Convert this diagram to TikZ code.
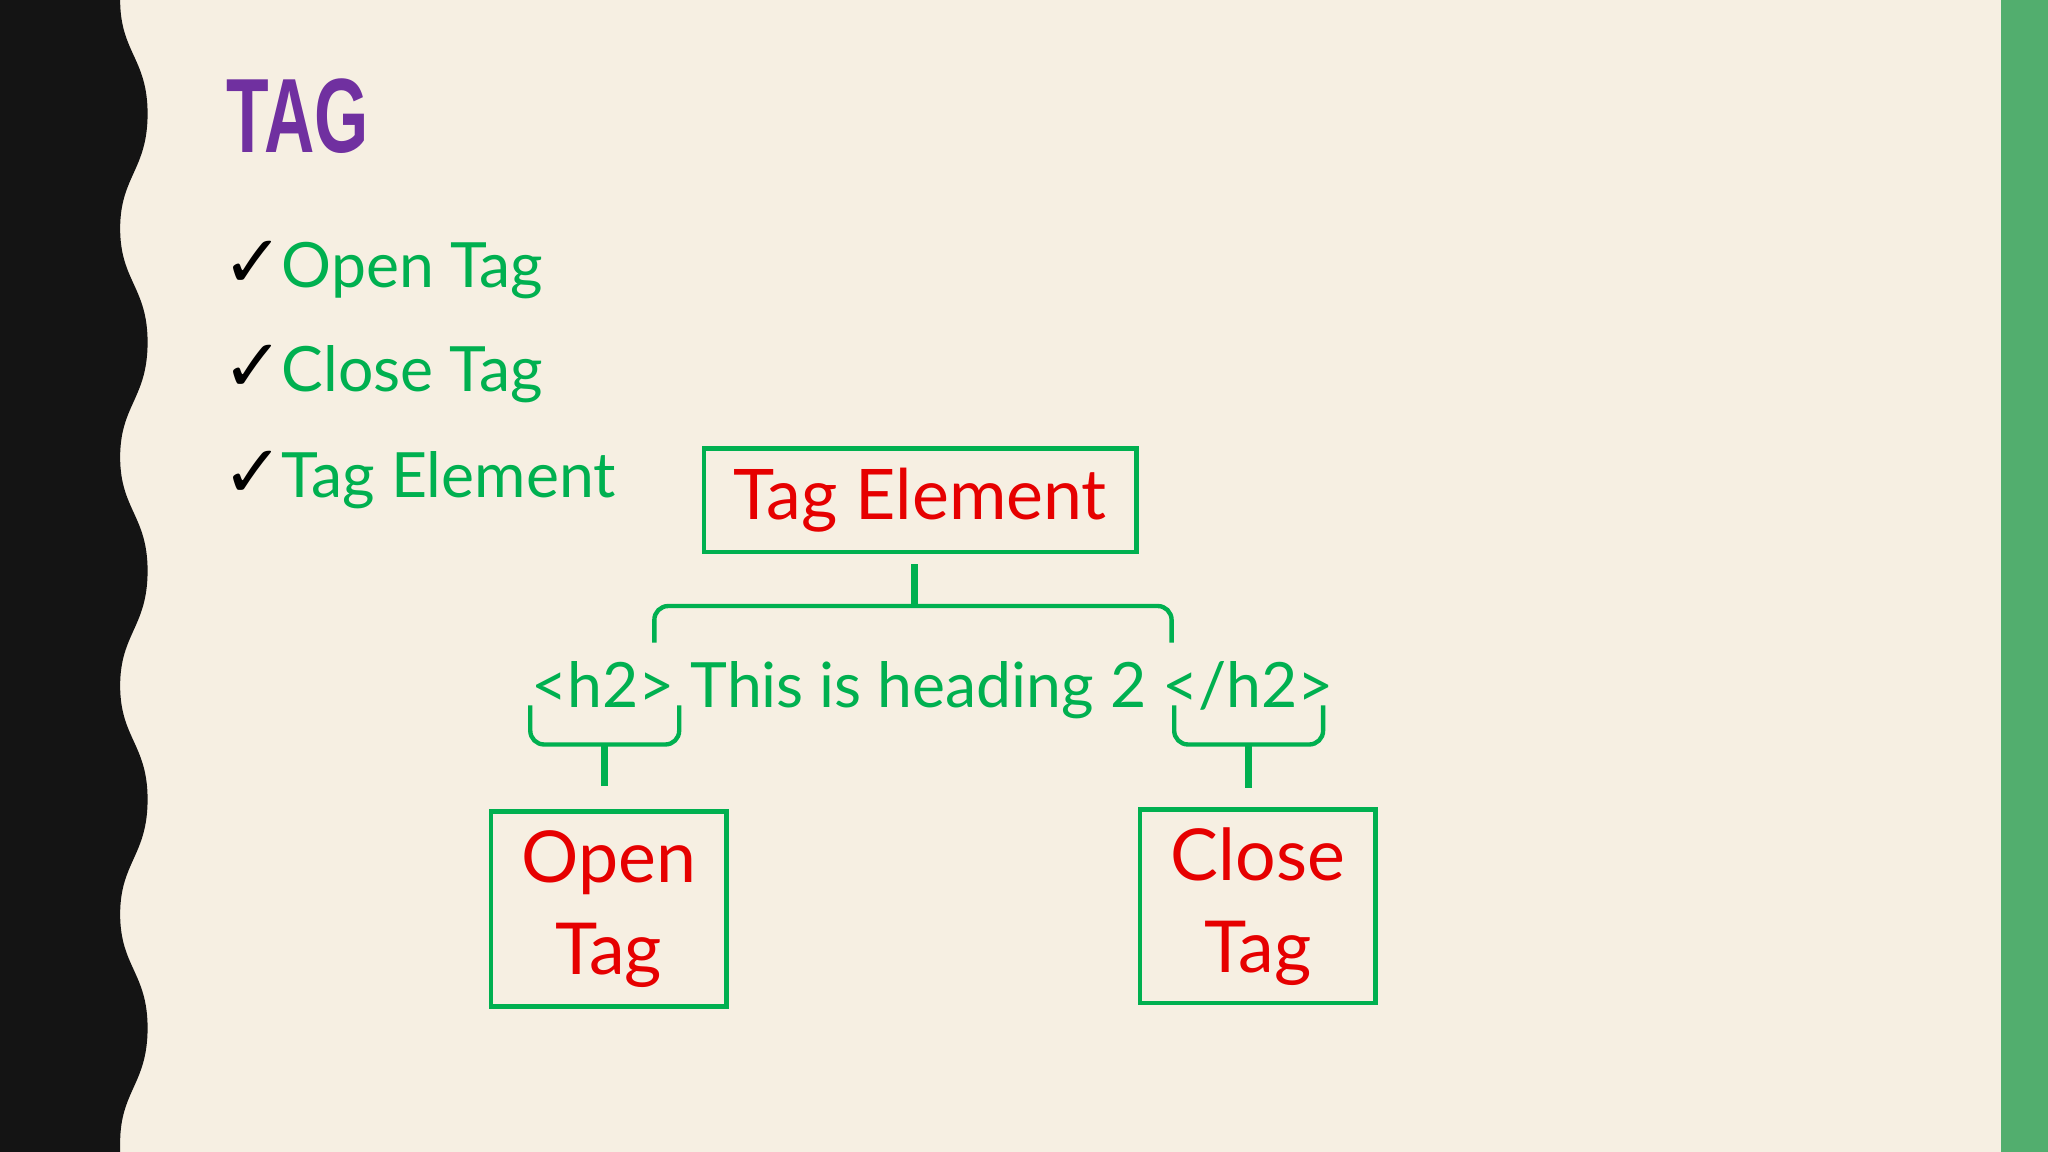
\documentclass[tikz,border=0pt]{standalone}
\usepackage{fontspec}
\setmainfont{Lato}
\newfontfamily\chk{DejaVu Sans}
\newfontfamily\titlefont{Liberation Sans}
\definecolor{bg}{RGB}{246,239,226}
\definecolor{gr}{RGB}{0,176,80}
\definecolor{band}{RGB}{82,174,110}
\definecolor{purp}{RGB}{112,48,160}
\definecolor{rd}{RGB}{230,0,0}
\tikzset{box/.style={draw=gr,line width=1.0pt,inner sep=0pt},
 brace/.style={draw=gr,line width=0.95pt,rounded corners=3pt},
 stem/.style={draw=gr,line width=1.6pt},
 item/.style={anchor=base west,text=gr,font=\fontsize{13.6}{16}\selectfont,inner sep=0pt}}
\begin{document}
\begin{tikzpicture}[x=0.01cm,y=-0.01cm]
\fill[bg] (0,0) rectangle (1568,882);
\useasboundingbox (0,0) rectangle (1568,882);
\fill[black!92] (0,0) -- (92,0)
 \foreach \k in {0,...,4} { .. controls (92,{\k*175+40}) and (113,{\k*175+45}) .. (113,{\k*175+87}) .. controls (113,{\k*175+130}) and (92,{\k*175+135}) .. (92,{\k*175+175}) }
 -- (92,882) -- (0,882) -- cycle;
\fill[band] (1532,0) rectangle (1568,882);
\node[anchor=base west,inner sep=0pt,text=purp,font=\titlefont\bfseries\fontsize{23}{26}\selectfont,xscale=0.66] (title) at (173,117) {TAG};
\node[item] (b1) at (215,220) {Open Tag};
\node[item] (b2) at (215,300) {Close Tag};
\node[item] (b3) at (215,381) {Tag Element};
\foreach \n in {b1,b2,b3} \node[anchor=base east,inner sep=0pt,font=\chk\fontsize{16}{18}\selectfont] at ([xshift=1]\n.base west) {✓};
\node[box,minimum width=3.31cm,minimum height=0.79cm,text=rd,font=\fontsize{15.2}{18}\selectfont] (te) at (704.5,383) {Tag Element};
\node[anchor=base,inner sep=0pt,text=gr,font=\fontsize{13.6}{16}\selectfont] (h) at (714,542) {<h2> This is heading 2 </h2>};
\node[box,minimum width=1.8cm,minimum height=1.49cm,align=center,text=rd,font=\fontsize{15.6}{20}\selectfont] (ot) at (466,696) {Open\\Tag};
\node[box,minimum width=1.8cm,minimum height=1.48cm,align=center,text=rd,font=\fontsize{15.6}{20}\selectfont] (ct) at (963,694) {Close\\Tag};
\draw[brace] (501,492) -- (501,464) -- (897,464) -- (897,492);
\coordinate (s1) at (700,432);
\draw[stem] (s1) -- (700,464);
\draw[brace] (406,540) -- (406,570) -- (520,570) -- (520,540);
\coordinate (s2) at (463,570);
\draw[stem] (s2) -- (463,602);
\draw[brace] (899,540) -- (899,570) -- (1013,570) -- (1013,540);
\coordinate (s3) at (956,570);
\draw[stem] (s3) -- (956,603);
\end{tikzpicture}
\end{document}
